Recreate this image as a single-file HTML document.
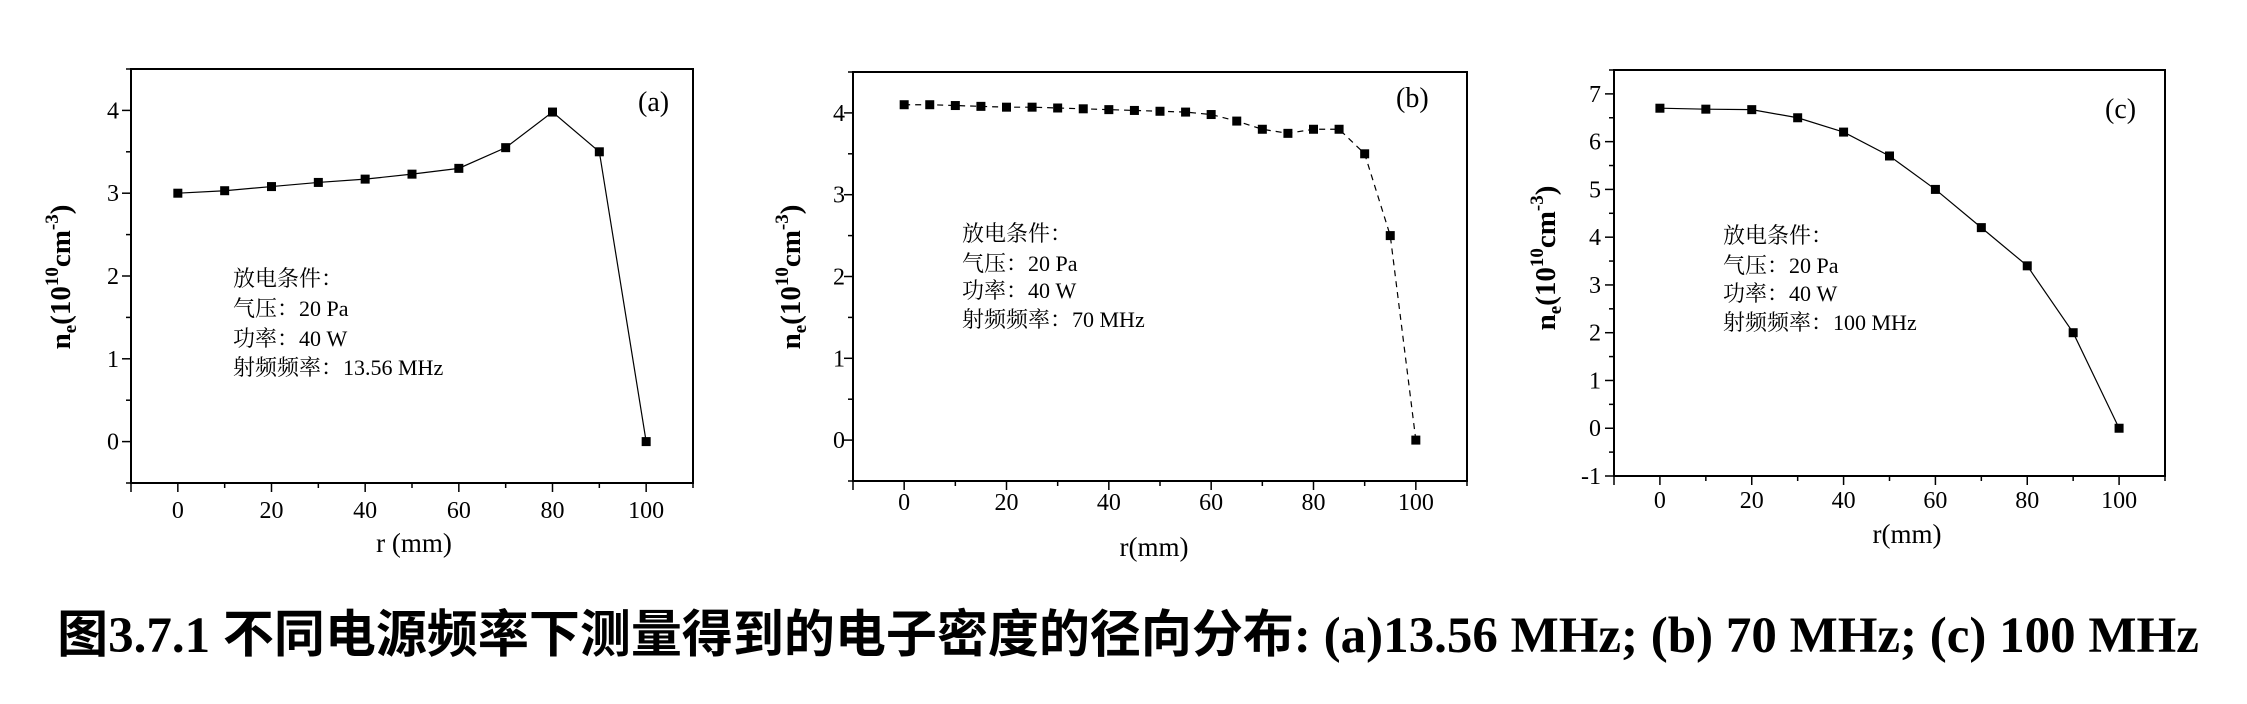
<!DOCTYPE html>
<html><head><meta charset="utf-8"><style>
html,body{margin:0;padding:0;background:#fff;}
svg{display:block;}
text{font-family:"Liberation Serif","Noto Serif CJK SC",serif;fill:#000;}
</style></head><body>
<svg id="s" width="2247" height="704" viewBox="0 0 2247 704" xmlns="http://www.w3.org/2000/svg">
<text x="1128" y="652" text-anchor="middle" style="font-family:'Liberation Serif','Noto Sans CJK SC',sans-serif;font-weight:bold;font-size:51px">图3.7.1 不同电源频率下测量得到的电子密度的径向分布: (a)13.56 MHz; (b) 70 MHz; (c) 100 MHz</text>
</svg>
<script>
var s=document.getElementById('s'),NS='http://www.w3.org/2000/svg';
function el(t,a,txt){var e=document.createElementNS(NS,t);for(var k in a)e.setAttribute(k,a[k]);if(txt!==undefined)e.textContent=txt;s.appendChild(e);return e;}
function panel(P){
 var X=function(v){return P.x0+(v-P.xmin)/(P.xmax-P.xmin)*(P.x1-P.x0);};
 var Y=function(v){return P.y1-(v-P.ymin)/(P.ymax-P.ymin)*(P.y1-P.y0);};
 el('rect',{x:P.x0,y:P.y0,width:P.x1-P.x0,height:P.y1-P.y0,fill:'none',stroke:'#000','stroke-width':2});
 for(var v=0;v<=110;v+=10){var x=X(v);var big=v%20==0;
  el('line',{x1:x,y1:P.y1,x2:x,y2:P.y1+(big?9:5),stroke:'#000','stroke-width':1.5});
  if(big&&v<=100)el('text',{x:x,y:P.xly,'text-anchor':'middle','font-size':24},v);}
 el('line',{x1:X(-10),y1:P.y1,x2:X(-10),y2:P.y1+9,stroke:'#000','stroke-width':1.5});
 for(var v=P.ymin;v<=P.ymax+1e-6;v+=0.5){var y=Y(v);var big=Math.abs(v-Math.round(v))<1e-6;
  el('line',{x1:P.x0,y1:y,x2:P.x0-(big?9:5),y2:y,stroke:'#000','stroke-width':1.5});
  if(big&&(v!=P.ymin||P.showMin))el('text',{x:P.ylx,y:y+8,'text-anchor':'end','font-size':24},v);}
 var pts=P.d.map(function(p){return X(p[0])+','+Y(p[1]);}).join(' ');
 var a={points:pts,fill:'none',stroke:'#000','stroke-width':1.2};if(P.dash)a['stroke-dasharray']='6,5';
 el('polyline',a);
 P.d.forEach(function(p){el('rect',{x:X(p[0])-4.5,y:Y(p[1])-4.5,width:9,height:9,fill:'#000'});});
 el('text',{x:P.lx,y:P.ly,'font-size':28},P.lab);
 el('text',{x:P.xtx,y:P.xty,'text-anchor':'middle','font-size':27},P.xt);
 var g=el('text',{transform:'translate('+P.ytx+','+P.yty+') rotate(-90)','text-anchor':'middle','font-size':29,'font-weight':'bold'});
 g.innerHTML='n<tspan font-size="19" dy="6">e</tspan><tspan dy="-6">(10</tspan><tspan font-size="19" dy="-12">10</tspan><tspan dy="12">cm</tspan><tspan font-size="19" dy="-12">-3</tspan><tspan dy="12">)</tspan>';
 var L=['放电条件：','气压：20 Pa','功率：40 W','射频频率：'+P.f];
 L.forEach(function(t,i){el('text',{x:P.ax,y:P.ay[i]+8,'font-size':22},t);});
}
panel({x0:131,x1:693,y0:69,y1:483,xmin:-10,xmax:110,ymin:-0.5,ymax:4.5,xly:518,ylx:119,
 d:[[0,3],[10,3.03],[20,3.08],[30,3.13],[40,3.17],[50,3.23],[60,3.3],[70,3.55],[80,3.98],[90,3.5],[100,0]],
 lab:'(a)',lx:638,ly:111,xt:'r (mm)',xtx:414,xty:552,ytx:70,yty:277,ax:233,ay:[278,308,338,367],f:'13.56 MHz'});
panel({x0:853,x1:1467,y0:72,y1:481,xmin:-10,xmax:110,ymin:-0.5,ymax:4.5,xly:510,ylx:845,dash:true,
 d:[[0,4.1],[5,4.1],[10,4.09],[15,4.08],[20,4.07],[25,4.07],[30,4.06],[35,4.05],[40,4.04],[45,4.03],[50,4.02],[55,4.01],[60,3.98],[65,3.9],[70,3.8],[75,3.75],[80,3.8],[85,3.8],[90,3.5],[95,2.5],[100,0]],
 lab:'(b)',lx:1396,ly:107,xt:'r(mm)',xtx:1154,xty:556,ytx:800,yty:277,ax:962,ay:[233,263,290,319],f:'70 MHz'});
panel({x0:1614,x1:2165,y0:70,y1:476,xmin:-10,xmax:110,ymin:-1,ymax:7.5,xly:508,ylx:1601,showMin:true,
 d:[[0,6.7],[10,6.68],[20,6.67],[30,6.5],[40,6.2],[50,5.7],[60,5],[70,4.2],[80,3.4],[90,2],[100,0]],
 lab:'(c)',lx:2105,ly:118,xt:'r(mm)',xtx:1907,xty:543,ytx:1555,yty:258,ax:1723,ay:[235,265,293,322],f:'100 MHz'});
</script>
</body></html>
